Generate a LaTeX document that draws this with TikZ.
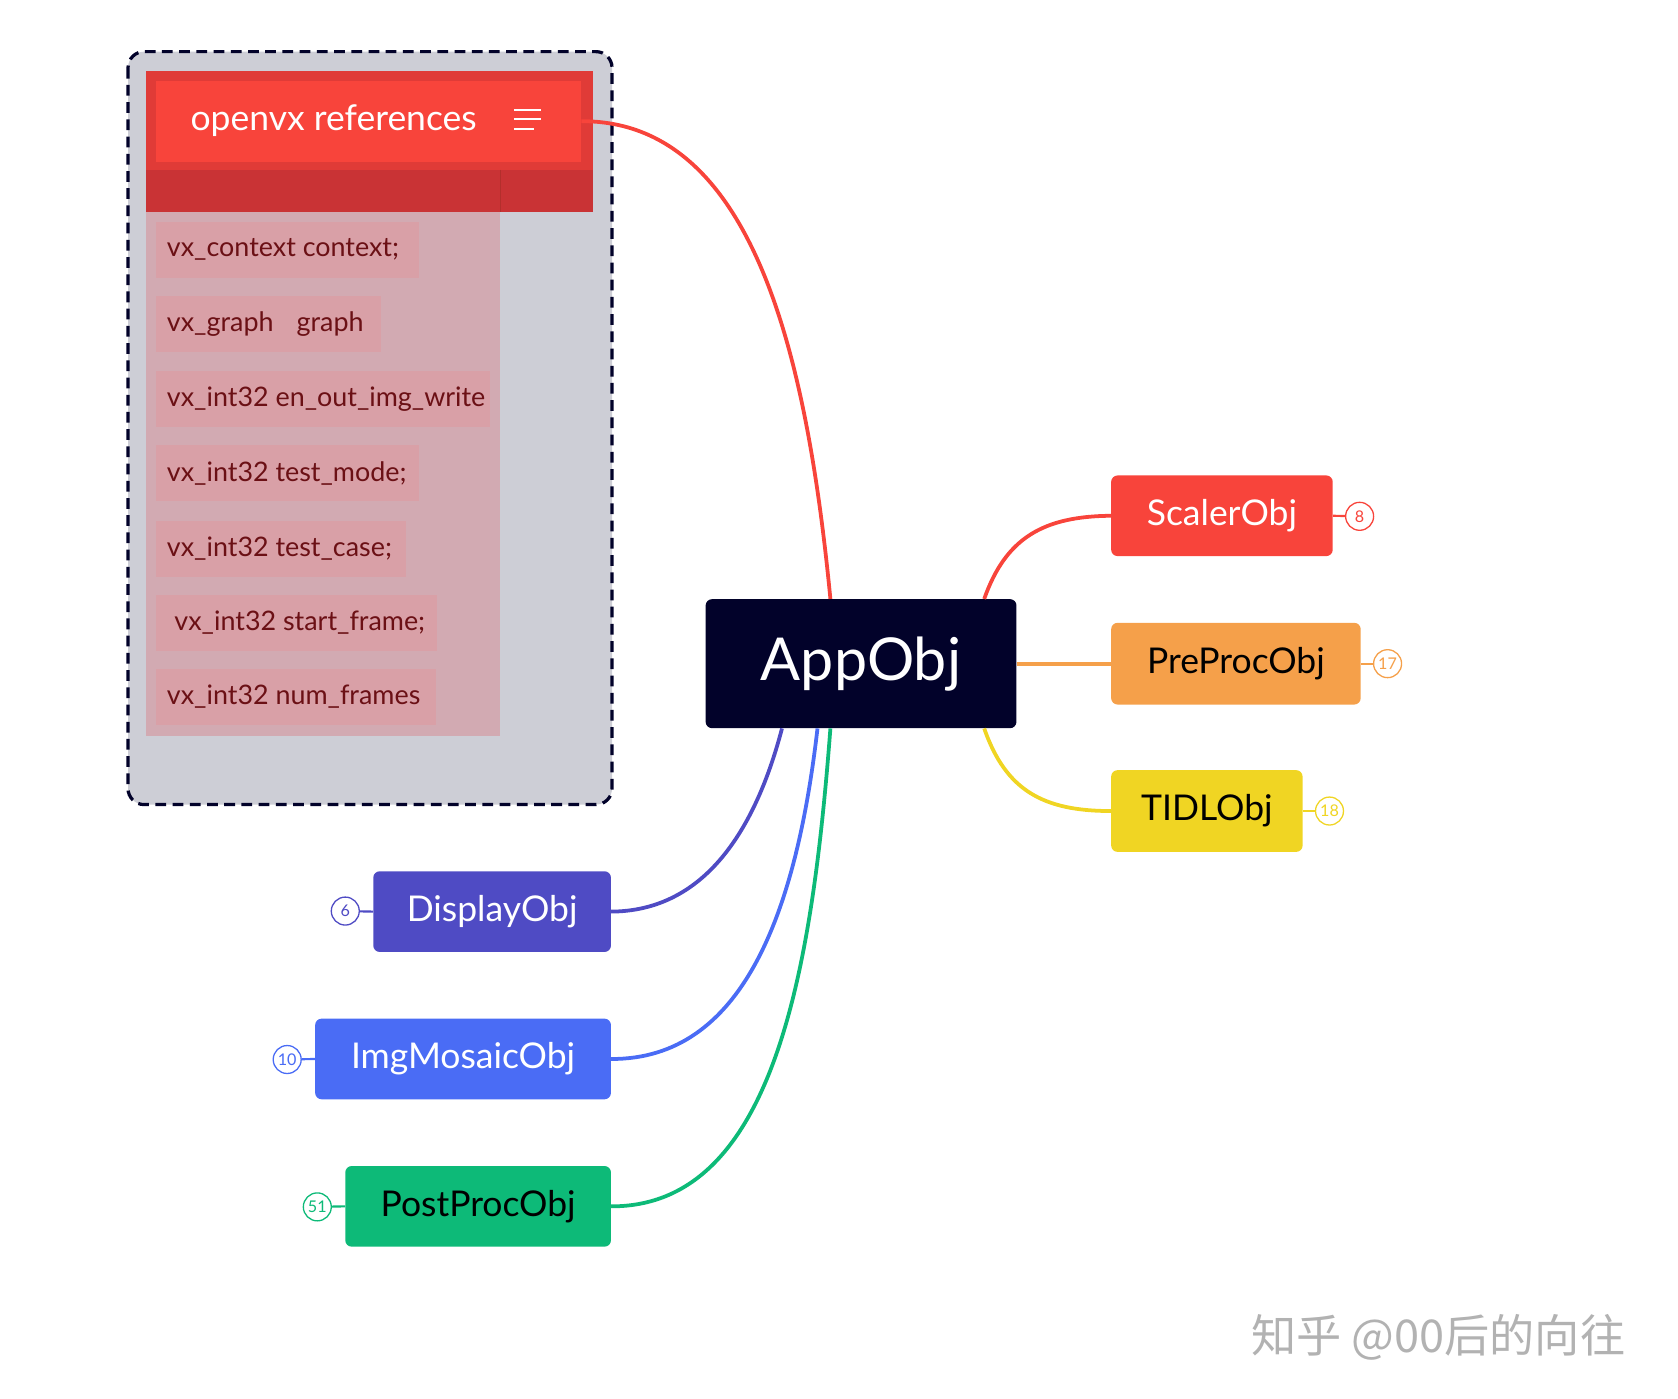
\documentclass[tikz,border=0pt]{standalone}
\usepackage{fontspec}
\setmainfont{Lato}
\newfontfamily\cjk{Noto Sans CJK SC}
\definecolor{cgray}{HTML}{CDCED6}
\definecolor{cred}{HTML}{F8443B}
\definecolor{cdred}{HTML}{C93335}
\definecolor{crim}{HTML}{E03B37}
\definecolor{cpinkbg}{HTML}{D2AAB2}
\definecolor{citem}{HTML}{D9A0A7}
\definecolor{ctxt}{HTML}{6B1015}
\definecolor{cnavy}{HTML}{02022A}
\definecolor{corange}{HTML}{F5A04A}
\definecolor{cyellow}{HTML}{F0D523}
\definecolor{cviolet}{HTML}{4F4BC4}
\definecolor{cblue}{HTML}{4A6CF5}
\definecolor{cgreen}{HTML}{0DBA78}
\newcommand{\itm}[2]{\makebox[#1][l]{#2}}
\begin{document}
\begin{tikzpicture}[x=1pt,y=-1pt,
  box/.style={rounded corners=6pt,inner sep=0pt,font=\fontsize{33}{35}\selectfont},
  item/.style={fill=citem,anchor=west,minimum height=52pt,inner xsep=10pt,inner ysep=0pt,text=ctxt,font=\fontsize{25}{27}\selectfont},
  conn/.style={line width=3.5pt},
  badge/.style={circle,draw,line width=1.2pt,fill=white,minimum size=26pt,inner sep=0pt,font=\fontsize{15}{16}\selectfont}]
\useasboundingbox (0,0) rectangle (1560,1300);
% container
\draw[cnavy,line width=3pt,dash pattern=on 10pt off 6pt,fill=cgray,rounded corners=15pt] (119,48) rectangle (569,748);
\fill[crim] (136,66) rectangle (551,158);
\fill[cdred] (136,158) rectangle (551,197);
\draw[crim!80!black,line width=1pt] (465,158) -- (465,197);
\fill[cpinkbg] (136,197) rectangle (465,684);
\node[fill=cred,minimum width=395pt,minimum height=75pt,anchor=north west,inner sep=0pt] (hdr) at (145,75) {};
\node[text=white,anchor=west,inner sep=0pt,font=\fontsize{33}{35}\selectfont] (hdrtxt) at (177,112) {openvx references};
\foreach \yy in {102,111}{\draw[white,line width=2pt] (478,\yy) -- (503,\yy);}
\draw[white,line width=2pt] (478,120) -- (496,120);
\node[item] (i1) at (145,232) {\itm{224pt}{vx\_context context;}};
\node[item] (i2) at (145,301) {\itm{189pt}{vx\_graph\hspace{0.6em} graph}};
\node[item] (i3) at (145,371) {\itm{290pt}{vx\_int32 en\_out\_img\_write}};
\node[item] (i4) at (145,440) {\itm{224pt}{vx\_int32 test\_mode;}};
\node[item] (i5) at (145,510) {\itm{212pt}{vx\_int32 test\_case;}};
\node[item] (i6) at (145,579) {\itm{241pt}{\hspace*{7pt}vx\_int32 start\_frame;}};
\node[item] (i7) at (145,648) {\itm{240pt}{vx\_int32 num\_frames}};
% main nodes
\node[box,fill=cnavy,text=white,minimum width=289pt,minimum height=120pt,font=\fontsize{55}{58}\selectfont] (app) at (800.5,617) {AppObj};
\node[box,fill=cred,text=white,minimum width=206pt,minimum height=75pt] (sc) at (1136,479.5) {ScalerObj};
\node[box,fill=corange,text=black,minimum width=232pt,minimum height=76pt] (pre) at (1149,617) {PreProcObj};
\node[box,fill=cyellow,text=black,minimum width=178pt,minimum height=76pt] (tidl) at (1122,754) {TIDLObj};
\node[box,fill=cviolet,text=white,minimum width=221pt,minimum height=75pt] (disp) at (457.5,847.5) {DisplayObj};
\node[box,fill=cblue,text=white,minimum width=275pt,minimum height=75pt] (img) at (430.5,984.5) {ImgMosaicObj};
\node[box,fill=cgreen,text=black,minimum width=247pt,minimum height=75pt] (post) at (444.5,1121.5) {PostProcObj};
% connectors
\draw[conn,cred] (hdr.east) .. controls (700,112) and (750,330) .. (app.north -| 772,0);
\draw[conn,cred] (app.north -| 915,0) .. controls (935,500) and (970,480) .. (sc.west);
\draw[conn,corange] (app.east) -- (pre.west);
\draw[conn,cyellow] (app.south -| 915,0) .. controls (935,735) and (970,754) .. (tidl.west);
\draw[conn,cviolet] (app.south -| 727,0) .. controls (700,780) and (650,847) .. (disp.east);
\draw[conn,cblue] (app.south -| 760,0) .. controls (740,850) and (690,985) .. (img.east);
\draw[conn,cgreen] (app.south -| 772,0) .. controls (755,900) and (720,1122) .. (post.east);
% badges
\node[badge,draw=cred,text=cred] (b1) at (1264,480) {8};
\draw[cred,line width=2pt] (sc.east) -- (b1);
\node[badge,draw=corange,text=corange] (b2) at (1290,617) {17};
\draw[corange,line width=2pt] (pre.east) -- (b2);
\node[badge,draw=cyellow,text=cyellow] (b3) at (1236,754) {18};
\draw[cyellow,line width=2pt] (tidl.east) -- (b3);
\node[badge,draw=cviolet,text=cviolet] (b4) at (321,847) {6};
\draw[cviolet,line width=2pt] (b4) -- (disp.west);
\node[badge,draw=cblue,text=cblue] (b5) at (267,985) {10};
\draw[cblue,line width=2pt] (b5) -- (img.west);
\node[badge,draw=cgreen,text=cgreen] (b6) at (295,1122) {51};
\draw[cgreen,line width=2pt] (b6) -- (post.west);
% watermark
\node[anchor=center,text=black!30,font=\cjk\fontsize{42}{44}\selectfont] (wm) at (1337,1243) {知乎 @00后的向往};
\end{tikzpicture}
\end{document}
